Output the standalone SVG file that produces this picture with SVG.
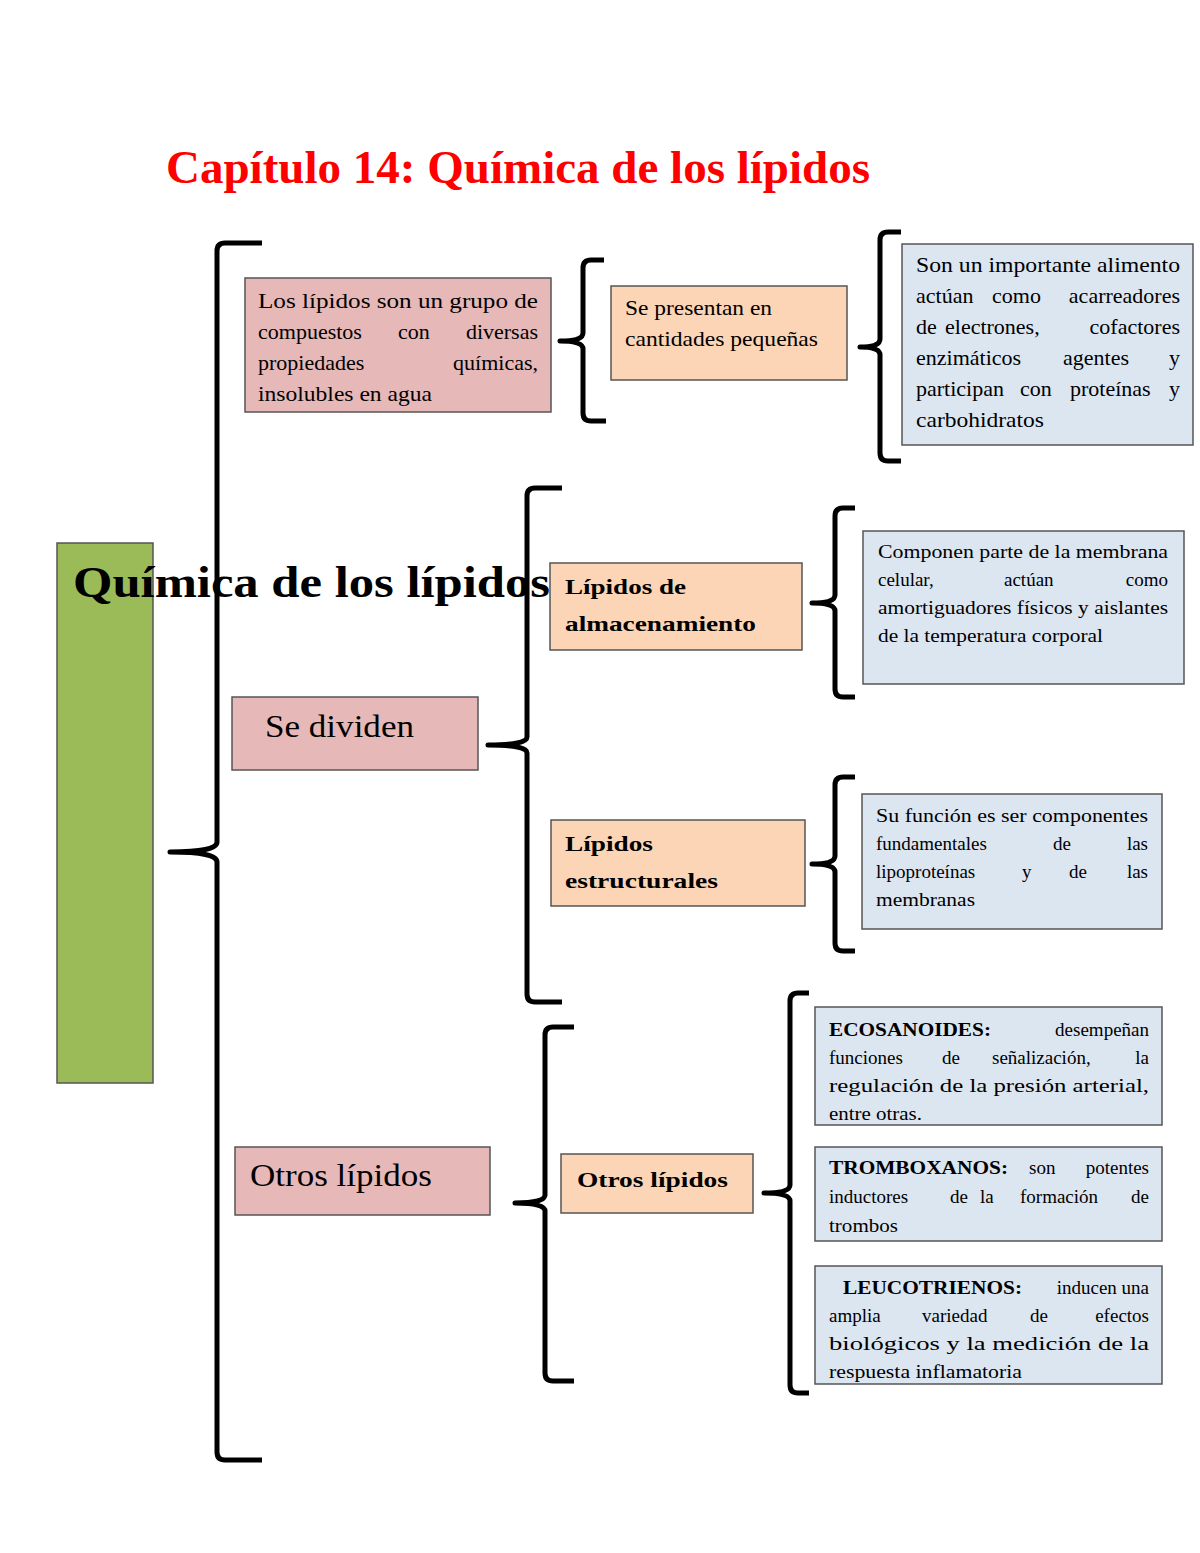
<svg xmlns="http://www.w3.org/2000/svg" width="1200" height="1553" viewBox="0 0 1200 1553">
<style>
text{font-family:"Liberation Serif","DejaVu Serif",serif;fill:#000}
.s22{font-size:22px}.s19{font-size:19px}.b{font-weight:bold}.e{text-anchor:end}
.br{fill:none;stroke:#000;stroke-width:5;stroke-linejoin:round}
.pk{fill:#E6B8B7;stroke:#555;stroke-width:1.5}.or{fill:#FBD5B5;stroke:#555;stroke-width:1.5}.bl{fill:#DCE6F1;stroke:#555;stroke-width:1.5}
</style>
<rect width="1200" height="1553" fill="#fff"/>
<text class="b" x="166" y="183" font-size="46" style="fill:#FF0000" textLength="704" lengthAdjust="spacingAndGlyphs">Capítulo 14: Química de los lípidos</text>
<g id="connectors">
<path class="br" d="M262,243 H225 Q217,243 217,251 V842 Q217,852 170,852 Q217,852 217,862 V1452 Q217,1460 225,1460 H262"/>
<path class="br" d="M604,260 H591 Q583,260 583,268 V333 Q583,341 560,341 Q583,341 583,349 V413 Q583,421 591,421 H606"/>
<path class="br" d="M901,232 H888 Q880,232 880,240 V339 Q880,347 860,347 Q880,347 880,355 V453 Q880,461 888,461 H901"/>
<path class="br" d="M562,488 H535 Q527,488 527,496 V737 Q527,745 488,745 Q527,745 527,753 V994 Q527,1002 535,1002 H562"/>
<path class="br" d="M855,508 H843 Q835,508 835,516 V595 Q835,603 812,603 Q835,603 835,611 V689 Q835,697 843,697 H855"/>
<path class="br" d="M855,777 H843 Q835,777 835,785 V856 Q835,864 812,864 Q835,864 835,872 V943 Q835,951 843,951 H855"/>
<path class="br" d="M574,1027 H553 Q545,1027 545,1035 V1195 Q545,1203 515,1203 Q545,1203 545,1211 V1373 Q545,1381 553,1381 H574"/>
<path class="br" d="M809,993 H798 Q790,993 790,1001 V1185 Q790,1193 764,1193 Q790,1193 790,1201 V1385 Q790,1393 798,1393 H809"/>
</g>
<g id="main"><rect x="57" y="543" width="96" height="540" fill="#9BBB59" stroke="#555" stroke-width="1.5"/>
<text class="b" x="73" y="597" font-size="44" textLength="477" lengthAdjust="spacingAndGlyphs">Química de los lípidos</text></g>
<g id="n1"><rect class="pk" x="245" y="278" width="306" height="134"/>
<g class="s22">
<text x="258" y="308" textLength="280" lengthAdjust="spacingAndGlyphs">Los lípidos son un grupo de</text>
<text x="258" y="339">compuestos</text><text x="398" y="339">con</text><text class="e" x="538" y="339">diversas</text>
<text x="258" y="370">propiedades</text><text class="e" x="538" y="370">químicas,</text>
<text x="258" y="401" textLength="174" lengthAdjust="spacingAndGlyphs">insolubles en agua</text></g></g>
<g id="n2"><rect class="or" x="611" y="286" width="236" height="94"/>
<g class="s22"><text x="625" y="315" textLength="147" lengthAdjust="spacingAndGlyphs">Se presentan en</text><text x="625" y="346" textLength="193" lengthAdjust="spacingAndGlyphs">cantidades pequeñas</text></g></g>
<g id="n3"><rect class="bl" x="902" y="244" width="291" height="201"/>
<g class="s22">
<text x="916" y="272" textLength="264" lengthAdjust="spacingAndGlyphs">Son un importante alimento</text>
<text x="916" y="303">actúan</text><text x="992" y="303">como</text><text class="e" x="1180" y="303">acarreadores</text>
<text x="916" y="334">de</text><text x="945" y="334">electrones,</text><text class="e" x="1180" y="334">cofactores</text>
<text x="916" y="365">enzimáticos</text><text x="1063" y="365">agentes</text><text class="e" x="1180" y="365">y</text>
<text x="916" y="396">participan</text><text x="1020" y="396">con</text><text x="1070" y="396">proteínas</text><text class="e" x="1180" y="396">y</text>
<text x="916" y="427" textLength="128" lengthAdjust="spacingAndGlyphs">carbohidratos</text></g></g>
<g id="n4"><rect class="pk" x="232" y="697" width="246" height="73"/>
<text x="265" y="737" font-size="32" textLength="149" lengthAdjust="spacingAndGlyphs">Se dividen</text></g>
<g id="n5"><rect class="or" x="550" y="563" width="252" height="87"/>
<g class="s22 b"><text x="565" y="594" textLength="121" lengthAdjust="spacingAndGlyphs">Lípidos de</text><text x="565" y="631" textLength="191" lengthAdjust="spacingAndGlyphs">almacenamiento</text></g></g>
<g id="n6"><rect class="bl" x="863" y="531" width="321" height="153"/>
<g class="s19">
<text x="878" y="558" textLength="290" lengthAdjust="spacingAndGlyphs">Componen parte de la membrana</text>
<text x="878" y="586">celular,</text><text x="1004" y="586">actúan</text><text class="e" x="1168" y="586">como</text>
<text x="878" y="614" textLength="290" lengthAdjust="spacingAndGlyphs">amortiguadores físicos y aislantes</text>
<text x="878" y="642" textLength="225" lengthAdjust="spacingAndGlyphs">de la temperatura corporal</text></g></g>
<g id="n7"><rect class="or" x="551" y="820" width="254" height="86"/>
<g class="s22 b"><text x="565" y="851" textLength="88" lengthAdjust="spacingAndGlyphs">Lípidos</text><text x="565" y="888" textLength="153" lengthAdjust="spacingAndGlyphs">estructurales</text></g></g>
<g id="n8"><rect class="bl" x="862" y="794" width="300" height="135"/>
<g class="s19">
<text x="876" y="822" textLength="272" lengthAdjust="spacingAndGlyphs">Su función es ser componentes</text>
<text x="876" y="850">fundamentales</text><text x="1053" y="850">de</text><text class="e" x="1148" y="850">las</text>
<text x="876" y="878">lipoproteínas</text><text x="1022" y="878">y</text><text x="1069" y="878">de</text><text class="e" x="1148" y="878">las</text>
<text x="876" y="906" textLength="99" lengthAdjust="spacingAndGlyphs">membranas</text></g></g>
<g id="n9"><rect class="pk" x="235" y="1147" width="255" height="68"/>
<text x="250" y="1186" font-size="32" textLength="182" lengthAdjust="spacingAndGlyphs">Otros lípidos</text></g>
<g id="n10"><rect class="or" x="561" y="1154" width="192" height="59"/>
<text class="s22 b" x="577" y="1187" textLength="151" lengthAdjust="spacingAndGlyphs">Otros lípidos</text></g>
<g id="n11"><rect class="bl" x="815" y="1007" width="347" height="118"/>
<g class="s19">
<text class="b" x="829" y="1036" textLength="162" lengthAdjust="spacingAndGlyphs">ECOSANOIDES:</text><text class="e" x="1149" y="1036">desempeñan</text>
<text x="829" y="1064">funciones</text><text x="942" y="1064">de</text><text x="992" y="1064">señalización,</text><text class="e" x="1149" y="1064">la</text>
<text x="829" y="1092" textLength="320" lengthAdjust="spacingAndGlyphs">regulación de la presión arterial,</text>
<text x="829" y="1120" textLength="93" lengthAdjust="spacingAndGlyphs">entre otras.</text></g></g>
<g id="n12"><rect class="bl" x="815" y="1147" width="347" height="94"/>
<g class="s19">
<text class="b" x="829" y="1174" textLength="179" lengthAdjust="spacingAndGlyphs">TROMBOXANOS:</text><text x="1029" y="1174">son</text><text class="e" x="1149" y="1174">potentes</text>
<text x="829" y="1203">inductores</text><text x="950" y="1203">de</text><text x="980" y="1203">la</text><text x="1020" y="1203">formación</text><text class="e" x="1149" y="1203">de</text>
<text x="829" y="1232" textLength="69" lengthAdjust="spacingAndGlyphs">trombos</text></g></g>
<g id="n13"><rect class="bl" x="815" y="1266" width="347" height="118"/>
<g class="s19">
<text class="b" x="843" y="1294" textLength="179" lengthAdjust="spacingAndGlyphs">LEUCOTRIENOS:</text><text class="e" x="1149" y="1294">inducen una</text>
<text x="829" y="1322">amplia</text><text x="922" y="1322">variedad</text><text x="1030" y="1322">de</text><text class="e" x="1149" y="1322">efectos</text>
<text x="829" y="1350" textLength="320" lengthAdjust="spacingAndGlyphs">biológicos y la medición de la</text>
<text x="829" y="1378" textLength="193" lengthAdjust="spacingAndGlyphs">respuesta inflamatoria</text></g></g>
</svg>
